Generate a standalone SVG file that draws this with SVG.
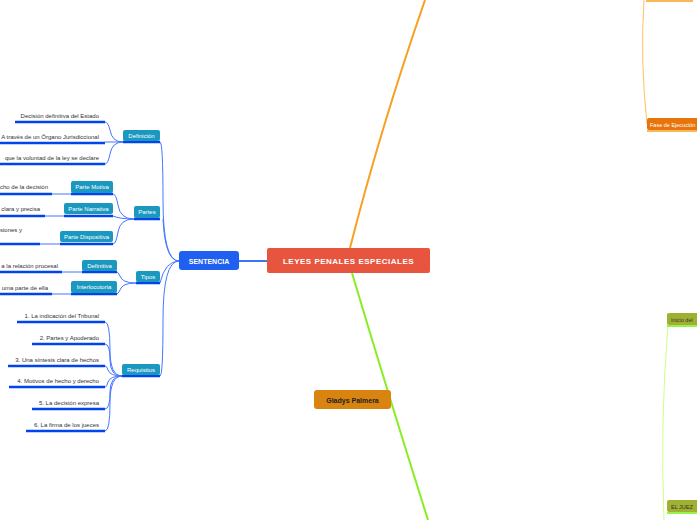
<svg xmlns="http://www.w3.org/2000/svg" width="697" height="520" viewBox="0 0 697 520">
<style>
.t{font-family:"Liberation Sans",Arial,sans-serif;font-size:6px;fill:#333;text-anchor:end}
.bt{font-family:"Liberation Sans",Arial,sans-serif;font-size:6px;fill:#fff;text-anchor:middle}
.bl{stroke:#0044ee;stroke-width:2.5;fill:none}
.bc{stroke:#4477ff;stroke-width:1;fill:none}
.box{fill:#1a98c0}
</style>
<g id="connectors">
<path d="M350,248 Q380,130 425,0" stroke="#f7a021" stroke-width="2" fill="none"/>
<path d="M352,273 Q390,400 428,520" stroke="#88ee22" stroke-width="2" fill="none"/>
<path d="M644,0 Q640,60 647,124" stroke="#ffc060" stroke-width="1" fill="none"/>
<path d="M664,520 Q660,420 668,325" stroke="#ccff88" stroke-width="1" fill="none"/>
<line x1="239" y1="261" x2="267" y2="261" stroke="#0044ee" stroke-width="1.5"/>
<path class="bc" d="M179,261 Q163,261 163,200 Q163,142 160,142 M179,261 Q165,261 163,219 M179,261 Q165,261 160,283 M179,261 Q163,261 163,320 Q163,376 160,376"/>
<path class="bl" d="M123,142 H160 M134,219 H160 M136,283 H160 M122,376 H160"/>
<path class="bc" d="M123,142 Q112,142 110,130 Q108,122 105,122 M123,142 H105 M123,142 Q112,142 110,154 Q108,164 105,164"/>
<path class="bl" d="M15,122 H105 M0,143 H105 M0,164 H105"/>
<path class="bc" d="M134,219 Q120,219 118,205 Q116,194 113,194 M134,219 Q120,219 113,216 M134,219 Q120,219 118,232 Q116,244 113,244"/>
<path class="bl" d="M71,194 H113 M64,216 H113 M60,244 H113 M0,194 H52 M0,216 H45 M0,244 H40"/>
<path class="bc" d="M52,194 H71 M45,216 H64 M40,244 H60"/>
<path class="bc" d="M136,283 Q122,283 120,276 Q118,272 117,272 M136,283 Q122,283 120,290 Q118,294 117,294"/>
<path class="bl" d="M82,272 H117 M71,294 H117 M0,272 H62 M0,294 H52"/>
<path class="bc" d="M62,272 H82 M52,294 H71"/>
<path class="bc" d="M122,376 Q110,376 110,350 Q110,322 105,322 M122,376 Q110,376 110,360 Q110,344 105,344 M122,376 Q110,376 108,370 Q107,366 105,366 M122,376 Q110,376 108,382 Q107,387 105,387 M122,376 Q110,376 110,392 Q110,409 105,409 M122,376 Q110,376 110,403 Q110,431 105,431"/>
<path class="bl" d="M17,322 H105 M32,344 H105 M8,366 H105 M9,387 H105 M32,409 H105 M26,431 H105"/>
</g>
<g id="central"><rect x="267" y="248" width="163" height="25" rx="2" fill="#e8553f"/><text x="348.5" y="264" class="bt" style="font-size:8px;font-weight:bold;letter-spacing:0.5px">LEYES PENALES ESPECIALES</text></g>
<g id="sentencia"><rect x="179" y="251" width="60" height="19" rx="3" fill="#2060f0"/><text x="209" y="263.5" class="bt" style="font-size:7px;font-weight:bold">SENTENCIA</text></g>
<g id="gladys"><rect x="314" y="390" width="77" height="19" rx="3" fill="#d98310"/><text x="352.5" y="402.5" class="bt" style="font-size:7px;font-weight:bold;fill:#222">Gladys Palmera</text></g>
<g id="fase-top"><rect x="646" y="-10" width="51" height="10" fill="#f29520"/><line x1="646" y1="1" x2="693" y2="1" stroke="#f7a021" stroke-width="1.5"/></g>
<g id="fase"><rect x="647" y="118" width="52" height="12" rx="2" fill="#e8740c"/><line x1="647" y1="131" x2="697" y2="131" stroke="#f7a021" stroke-width="1.5"/><text x="650" y="126.5" class="t" style="text-anchor:start;fill:#fff;font-size:5.5px">Fase de Ejecución</text></g>
<g id="inicio"><rect x="667" y="313" width="32" height="12" rx="2" fill="#a0b030"/><line x1="667" y1="326" x2="697" y2="326" stroke="#77ee11" stroke-width="1.5"/><text x="671" y="321.5" class="t" style="text-anchor:start;font-size:5.5px">Inicio del</text></g>
<g id="juez"><rect x="667" y="500" width="32" height="12" rx="2" fill="#a0b030"/><line x1="667" y1="513" x2="697" y2="513" stroke="#77ee11" stroke-width="1.5"/><text x="671" y="508.5" class="t" style="text-anchor:start;font-size:5.5px">EL JUEZ</text></g>
<g id="definicion"><rect class="box" x="123" y="130" width="37" height="11" rx="2"/><text x="141.5" y="137.5" class="bt">Definición</text>
<text x="99" y="118" class="t">Decisión definitiva del Estado</text>
<text x="99" y="139" class="t">A través de un Órgano Jurisdiccional</text>
<text x="99" y="160" class="t">que la voluntad de la ley se declare</text></g>
<g id="partes"><rect class="box" x="134" y="206" width="26" height="12" rx="2"/><text x="147" y="214" class="bt">Partes</text></g>
<g id="motiva"><rect class="box" x="71" y="181" width="42" height="12" rx="2"/><text x="92" y="189" class="bt">Parte Motiva</text><text x="48" y="189" class="t">cho de la decisión</text></g>
<g id="narrativa"><rect class="box" x="64" y="203" width="49" height="11" rx="2"/><text x="88.5" y="210.5" class="bt">Parte Narrativa</text><text x="40" y="211" class="t">clara y precisa</text></g>
<g id="dispositiva"><rect class="box" x="60" y="231" width="53" height="11" rx="2"/><text x="86.5" y="238.5" class="bt">Parte Dispositiva</text><text x="22" y="232" class="t">siones y</text></g>
<g id="tipos"><rect class="box" x="136" y="271" width="24" height="11" rx="2"/><text x="148" y="278.5" class="bt">Tipos</text></g>
<g id="definitiva"><rect class="box" x="82" y="260" width="35" height="11" rx="2"/><text x="99.5" y="267.5" class="bt">Definitiva</text><text x="58" y="268" class="t">a la relación procesal</text></g>
<g id="interlocutoria"><rect class="box" x="71" y="281" width="46" height="12" rx="2"/><text x="94" y="289" class="bt">Interlocutoria</text><text x="48" y="290" class="t">uma parte de ella</text></g>
<g id="requisitos"><rect class="box" x="122" y="364" width="38" height="11" rx="2"/><text x="141" y="371.5" class="bt">Requisitos</text>
<text x="99" y="318" class="t">1. La indicación del Tribunal</text>
<text x="99" y="340" class="t">2. Partes y Apoderado</text>
<text x="99" y="362" class="t">3. Una síntesis clara de hechos</text>
<text x="99" y="383" class="t">4. Motivos de hecho y derecho</text>
<text x="99" y="405" class="t">5. La decisión expresa</text>
<text x="99" y="427" class="t">6. La firma de los jueces</text></g>
</svg>
